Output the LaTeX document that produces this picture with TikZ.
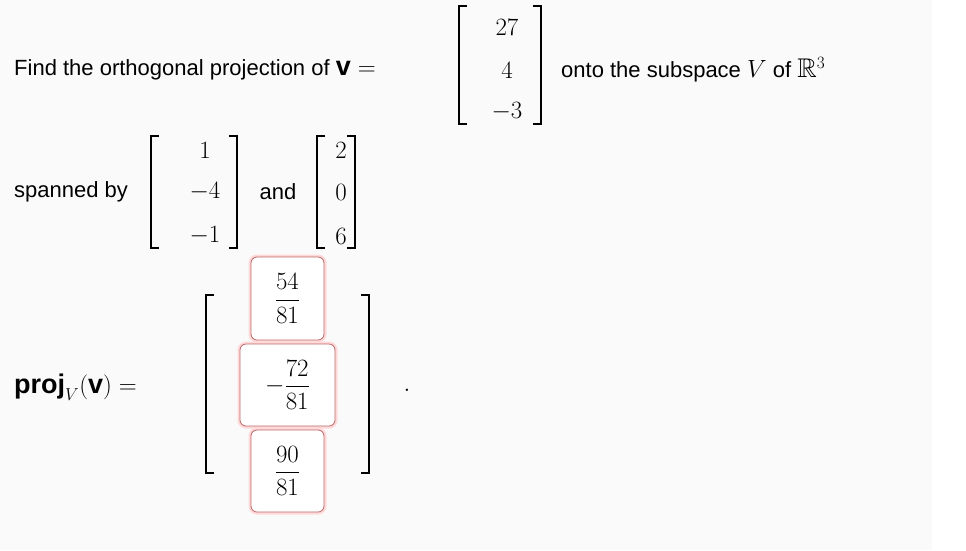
\documentclass[tikz,border=0pt]{standalone}
\usepackage{amsmath,amssymb}
\usepackage{fontspec}
\setmainfont{Liberation Sans}
\begin{document}
\begin{tikzpicture}[x=1pt,y=-1pt,
  txt/.style={inner sep=0,font=\fontsize{22}{26}\selectfont},
  mth/.style={inner sep=0,font=\fontsize{27}{32}\selectfont},
  brk/.style={line width=2pt},
  ansbox/.style={draw=red!55!black!60,fill=white,rounded corners=6pt,line width=0.8pt,
     preaction={draw=red!15,line width=5pt}}]
\fill[white] (0,0) rectangle (966,550);
\fill[black!2] (0,0) rectangle (932,550);
\useasboundingbox (0,0) rectangle (966,550);
% line 1
\node[txt,anchor=west] (t1) at (14,70) {Find the orthogonal projection of \fontsize{27}{32}\selectfont$\mathbf{v}=$};
\node[mth] (v1) at (507,27) {$27$};
\node[mth] (v2) at (507,70) {$4$};
\node[mth] (v3) at (507,112) {$-3$};
\draw[brk] (467,6) -- (459,6) -- (459,124) -- (467,124);
\draw[brk] (533,6) -- (541,6) -- (541,124) -- (533,124);
\node[txt,anchor=west] (t2) at (561,70) {onto the subspace \fontsize{27}{32}\selectfont$V$\fontsize{22}{26}\selectfont{} of \fontsize{27}{32}\selectfont$\mathbb{R}^3$};
% line 2
\node[txt,anchor=west] (t3) at (14,192) {spanned by};
\node[mth] (a1) at (205,150) {$1$};
\node[mth] (a2) at (205,192) {$-4$};
\node[mth] (a3) at (205,236) {$-1$};
\draw[brk] (159,136) -- (151,136) -- (151,248) -- (159,248);
\draw[brk] (229,136) -- (237,136) -- (237,248) -- (229,248);
\node[txt] (and) at (278,192) {and};
\node[mth] (b1) at (341,150) {$2$};
\node[mth] (b2) at (341,192) {$0$};
\node[mth] (b3) at (341,236) {$6$};
\draw[brk] (325,136) -- (317,136) -- (317,248) -- (325,248);
\draw[brk] (347,136) -- (355,136) -- (355,248) -- (347,248);
% projection
\node[mth,anchor=west] (p) at (14,387) {$\mathbf{proj}_V(\mathbf{v})=$};
\draw[brk] (214,295) -- (206,295) -- (206,473) -- (214,473);
\draw[brk] (361,295) -- (369,295) -- (369,473) -- (361,473);
\node[ansbox,minimum width=73,minimum height=83] (f1) at (287.5,298.5) {};
\node[mth] at (f1) {$\dfrac{54}{81}$};
\node[ansbox,minimum width=95,minimum height=82] (f2) at (287.5,385) {};
\node[mth] at (f2) {$-\dfrac{72}{81}$};
\node[ansbox,minimum width=73,minimum height=82] (f3) at (287.5,471) {};
\node[mth] at (f3) {$\dfrac{90}{81}$};
\node[mth] (dot) at (407,390) {$.$};
\end{tikzpicture}
\end{document}
